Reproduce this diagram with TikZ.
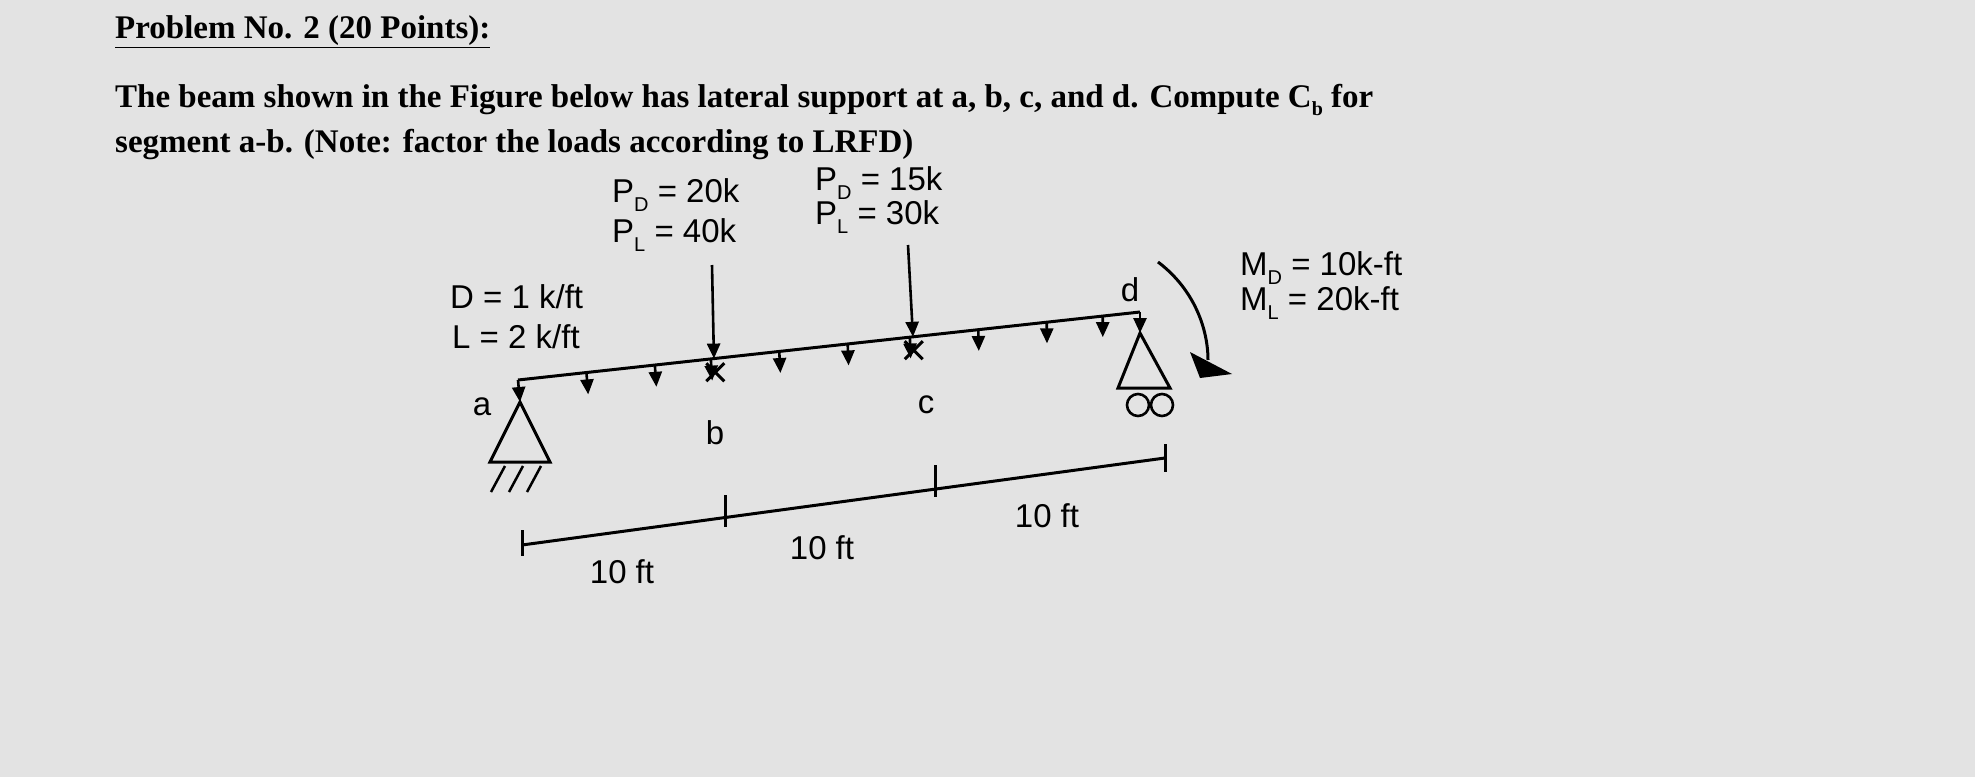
\documentclass[tikz,border=0pt]{standalone}
\usepackage{fontspec}
\setmainfont{Liberation Serif}
\setsansfont{Liberation Sans}
\usetikzlibrary{arrows.meta,calc}
\newcommand{\sbs}[1]{\raisebox{-0.25em}{\fontsize{20}{22}\selectfont #1}}
\begin{document}
\begin{tikzpicture}[x=1pt,y=-1pt,
  txt/.style={anchor=west,inner sep=0pt,font=\bfseries\fontsize{33}{38}\selectfont},
  lbl/.style={inner sep=0pt,font=\sffamily\fontsize{33}{38}\selectfont},
  ln/.style={line width=3pt},
  xm/.style={line width=3pt},
  ld/.style={line width=2.6pt,-{Triangle[length=15pt,width=13pt]}}]
\fill[gray!22] (0,0) rectangle (1975,777);
\useasboundingbox (0,0) rectangle (1975,777);
% texts
\node[txt] (title) at (115,32) {\underline{Problem No. 2 (20 Points):}};
\node[txt] (l1) at (115,100) {The beam shown in the Figure below has lateral support at a, b, c, and d. Compute C\sbs{b} for};
\node[txt] (l2) at (115,145) {segment a-b. (Note: factor the loads according to LRFD)};
% beam geometry
\coordinate (A) at (520,402); \coordinate (D) at (1140,333);
\coordinate (At) at (518,380); \coordinate (Dt) at (1140,312);
\draw[ln] (At) -- (Dt);
\foreach \t in {0,0.11,0.22,0.31,0.42,0.53,0.63,0.74,0.85,0.94,1} {
  \draw[ld] ($(At)!\t!(Dt)$) -- ($(A)!\t!(D)$);
}
\coordinate (xb) at ($(A)!0.315!(D)+(0,-8)$);
\coordinate (xc) at ($(A)!0.635!(D)+(0,-8)$);
\foreach \p in {xb,xc} \draw[xm] ($(\p)+(-9,-9)$) -- ($(\p)+(9,9)$) ($(\p)+(-9,9)$) -- ($(\p)+(9,-9)$);
% point loads
\coordinate (pb0) at (712,265); \coordinate (pc0) at (908,245);
\draw[ld] (pb0) -- ($(At)!0.315!(Dt)$);
\draw[ld] (pc0) -- ($(At)!0.635!(Dt)$);
% supports
\draw[ln] (A) -- (490,462) -- (550,462) -- cycle;
\foreach \x in {497,515,533} \draw[line width=2.5pt] (\x+8,466) -- (\x-6,492);
\draw[ln] (D) -- (1118,388) -- (1170,388) -- cycle;
\draw[line width=2.6pt] (1138,405) circle (11pt) (1162,405) circle (11pt);
% moment
\coordinate (m0) at (1158,262);
\draw[line width=3pt] (m0) .. controls (1195,290) and (1208,330) .. (1208,360);
\fill (1190,352) -- (1232,374) -- (1200,378) -- cycle;
% dimensions
\coordinate (da) at (522,545); \coordinate (dd) at (1165,458);
\draw[ln] (da) -- (dd);
\draw[ln] (522,530) -- (522,556);
\draw[ln] (725,495) -- (725,527);
\draw[ln] (935,465) -- (935,497);
\draw[ln] (1165,444) -- (1165,472);
% labels
\node[lbl] (la) at (482,407) {a};
\node[lbl] (lb) at (715,433) {b};
\node[lbl] (lc) at (926,405) {c};
\node[lbl] (ldd) at (1130,290) {d};
\node[lbl,anchor=west] (dl) at (450,297) {D = 1 k/ft};
\node[lbl,anchor=west] (ll) at (452,337) {L = 2 k/ft};
\node[lbl,anchor=west] (p1) at (612,195) {P\sbs{D} = 20k};
\node[lbl,anchor=west] (p2) at (612,235) {P\sbs{L} = 40k};
\node[lbl,anchor=west] (p3) at (815,183) {P\sbs{D} = 15k};
\node[lbl,anchor=west] (p4) at (815,217) {P\sbs{L} = 30k};
\node[lbl,anchor=west] (m1l) at (1240,268) {M\sbs{D} = 10k-ft};
\node[lbl,anchor=west] (m2l) at (1240,303) {M\sbs{L} = 20k-ft};
\node[lbl] (s1) at (622,572) {10 ft};
\node[lbl] (s2) at (822,548) {10 ft};
\node[lbl] (s3) at (1047,516) {10 ft};
\end{tikzpicture}
\end{document}
